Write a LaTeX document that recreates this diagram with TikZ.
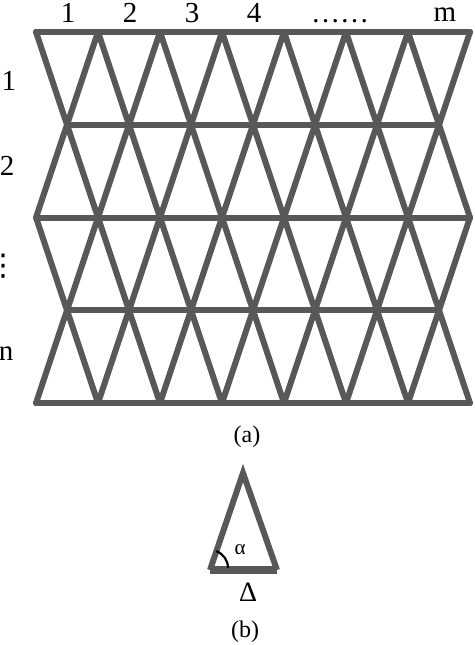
\documentclass[tikz,border=0pt]{standalone}
\usepackage{fontspec}
\setmainfont{Liberation Serif}
\newfontfamily\symfont{DejaVu Sans}
\definecolor{gridgray}{RGB}{88,88,88}
\begin{document}
\begin{tikzpicture}[x=1pt,y=-1pt,
  bar/.style={draw=gridgray, line width=6pt, line cap=round, line join=round},
  lbl/.style={inner sep=0pt, font=\fontsize{29}{32}\selectfont},
  captext/.style={inner sep=0pt, font=\fontsize{24}{28}\selectfont}]
\path[use as bounding box] (0,0) rectangle (474,645);
% horizontal bars
\draw[bar] (36,32) -- (470,32);
\draw[bar] (67,124.75) -- (439,124.75);
\draw[bar] (36,217.5) -- (470,217.5);
\draw[bar] (67,310.25) -- (439,310.25);
\draw[bar] (36,403) -- (470,403);
% zigzags
\foreach \ya/\yb in {32/124.75, 217.5/124.75, 217.5/310.25, 403/310.25}{
  \draw[bar] (36,\ya) \foreach \k in {0,...,6}{ -- ({67+62*\k},\yb) -- ({98+62*\k},\ya) };
}
% column labels
\node[lbl] (c1) at (68,13) {1};
\node[lbl] (c2) at (130,13) {2};
\node[lbl] (c3) at (192,13) {3};
\node[lbl] (c4) at (254,13) {4};
\node[lbl, anchor=base] (cd) at (340,22) {……};
\node[lbl] (cm) at (445,15) {m};
% row labels
\node[lbl] (r1) at (9,81) {1};
\node[lbl] (r2) at (7,166) {2};
\node[inner sep=0pt, font=\symfont\fontsize{30}{32}\selectfont] (r3) at (4,266) {\makebox[0pt]{⋮}};
\node[lbl] (rn) at (6,354) {n};
\node[captext] (capa) at (247,437) {(a)};
% part (b)
\coordinate (bl) at (210,570);
\coordinate (br) at (277,570);
\coordinate (ap) at (243,473);
\draw[draw=gridgray, line width=6pt, line join=miter] (bl) -- (ap) -- (br);
\draw[draw=gridgray, line width=8pt] (bl) -- (br);
\draw[line width=2.2pt] (bl) ++(18,-2) arc[start angle=0, end angle=-70, radius=18];
\node[inner sep=0pt, font=\fontsize{21}{23}\selectfont] (al) at (240,550) {α};
\node[inner sep=0pt, font=\fontsize{28}{30}\selectfont] (de) at (248,592) {Δ};
\node[captext] (capb) at (245,632) {(b)};
\end{tikzpicture}
\end{document}
